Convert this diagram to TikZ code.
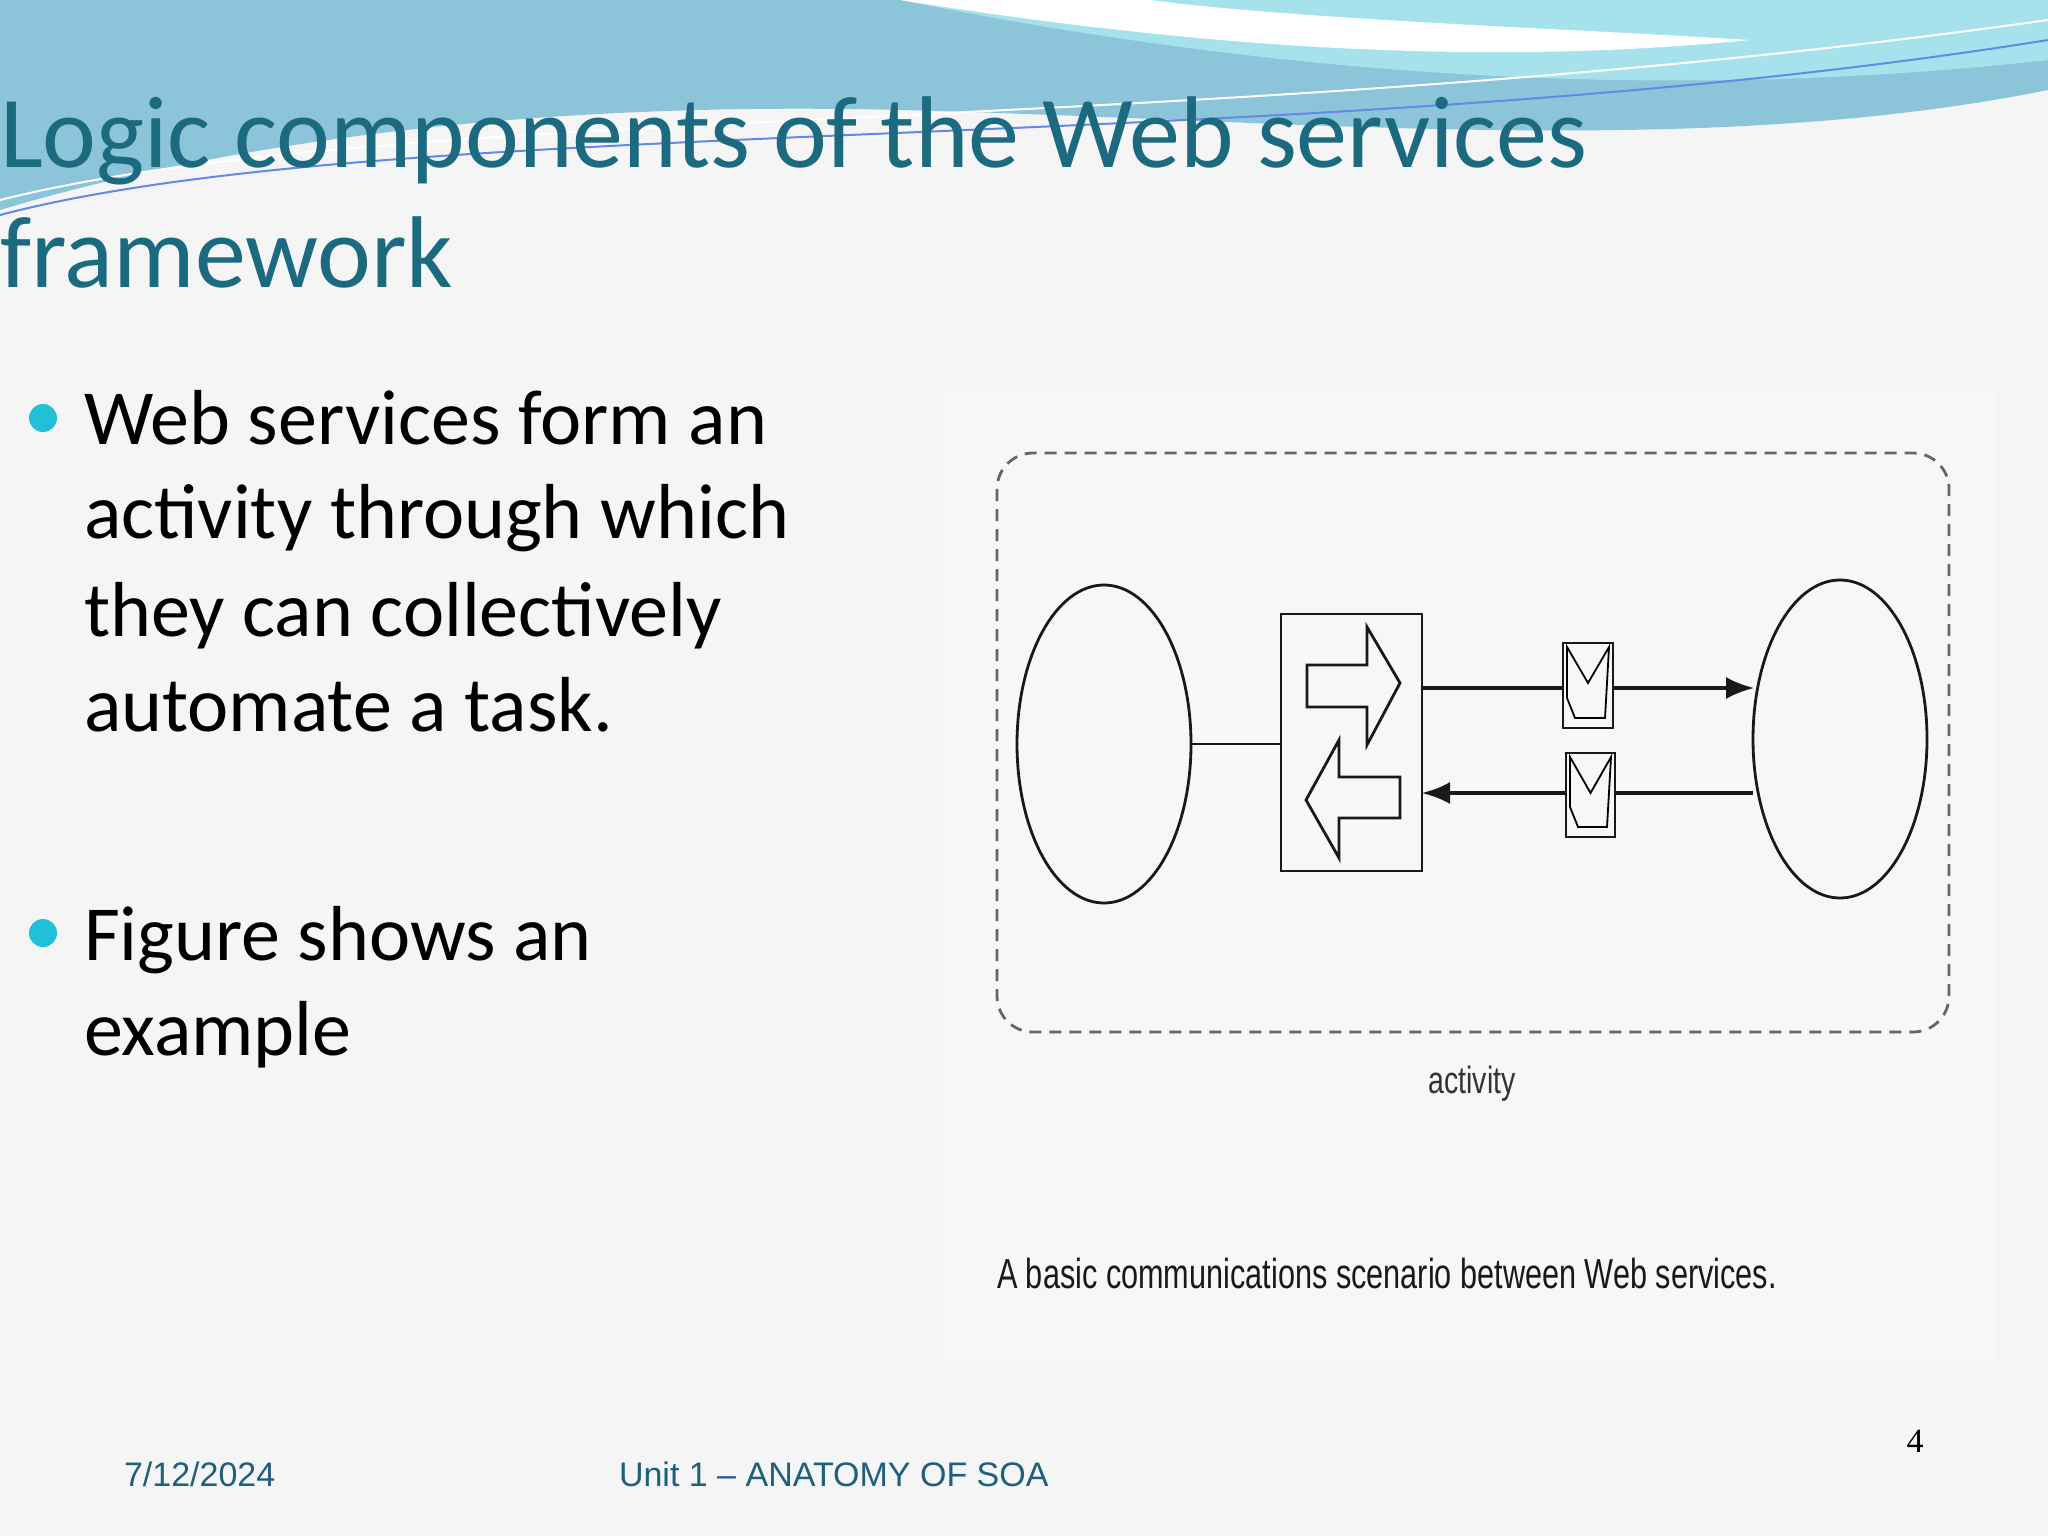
\documentclass[tikz,border=0pt]{standalone}
\usepackage{fontspec}
\usetikzlibrary{arrows.meta,shapes.geometric}
\setmainfont{Carlito}
\newfontfamily\capfont{Liberation Sans}
\newfontfamily\numf{Liberation Serif}
\begin{document}
\begin{tikzpicture}[x=0.5pt,y=-0.5pt,
  every node/.style={inner sep=0pt,outer sep=0pt},
  ln/.style={line width=1.6pt,black!90},
  thin/.style={line width=1.4pt,black!90},
  tl/.style={anchor=base west,font=\fontsize{51pt}{60pt}\selectfont,text=titc},
  bl/.style={anchor=base west,font=\fontsize{39pt}{46pt}\selectfont,text=black},
  dotb/.style={circle,fill=bulc,minimum size=14pt}]
\definecolor{titc}{HTML}{1C6A80}
\definecolor{bulc}{HTML}{1FC0D8}
\definecolor{footc}{HTML}{1E5F7A}
\definecolor{wave1}{HTML}{8CC4DA}
\definecolor{wave2}{HTML}{A6E2EC}
\useasboundingbox (0,0) rectangle (2048,1536);
\fill[black!4] (0,0) rectangle (2048,1536);
% top wave
\fill[wave1] (0,0) -- (2048,0) -- (2048,90) .. controls (1700,160) and (1300,120) .. (900,110) .. controls (500,100) and (200,150) .. (0,210) -- cycle;
\fill[wave2] (900,0) .. controls (1200,60) and (1600,110) .. (2048,60) -- (2048,0) -- cycle;
\fill[white] (900,0) .. controls (1150,40) and (1450,70) .. (1750,40) .. controls (1600,30) and (1300,20) .. (1150,0) -- cycle;
\draw[white,line width=1pt] (0,200) .. controls (400,100) and (1200,140) .. (2048,20);
\draw[wave1!70!blue,line width=1pt] (0,215) .. controls (400,110) and (1300,160) .. (2048,40);
% title
\node[tl] (t1) at (0,167) {Logic components of the Web services};
\node[tl] (t2) at (0,287) {framework};
% bullets
\node[dotb] (d1) at (43,418) {};
\node[bl] (b1) at (84,444) {Web services form an};
\node[bl] (b2) at (84,538) {activity through which};
\node[bl] (b3) at (84,636) {they can collectively};
\node[bl] (b4) at (84,731) {automate a task.};
\node[dotb] (d2) at (43,933) {};
\node[bl] (b5) at (84,960) {Figure shows an};
\node[bl] (b6) at (84,1055) {example};
% panel
\fill[white!97!black] (938,392) rectangle (1996,1365);
\draw[thin,dashed,dash pattern=on 6pt off 4pt,rounded corners=18pt,black!60] (997,453) rectangle (1949,1032);
\node[draw,thin,ellipse,minimum width=87pt,minimum height=159pt] (le) at (1104,744) {};
\node[draw,thin,ellipse,minimum width=87pt,minimum height=159pt] (re) at (1840,739) {};
\node[draw,thin,minimum width=70.5pt,minimum height=128.5pt] (bx) at (1351.5,742.5) {};
\draw[thin] (le.east) -- (bx.west |- le.east);
\draw[thin,line join=miter] (1307,665) -- (1367,665) -- (1367,627) -- (1400,683) -- (1367,745) -- (1367,707) -- (1307,707) -- cycle;
\draw[thin,line join=miter] (1400,777) -- (1339,777) -- (1339,740) -- (1306,800) -- (1339,858) -- (1339,818) -- (1400,818) -- cycle;
\node[draw,thin,minimum width=25pt,minimum height=42.5pt] (e1) at (1588,685.5) {};
\node[draw,thin,minimum width=24.5pt,minimum height=42pt] (e2) at (1590.5,795) {};
\foreach \e in {e1,e2}{
  \draw[line width=0.9pt] ([shift={(4,4)}]\e.north west) -- ([shift={(0,40)}]\e.north) -- ([shift={(-4,4)}]\e.north east) -- ([shift={(-8,-10)}]\e.south east) -- ([shift={(12,-10)}]\e.south west) -- ([shift={(4,-30)}]\e.south west) -- cycle;
}
\coordinate (a1) at (1754,688);
\coordinate (a2) at (1753,793);
\draw[ln] (bx.east |- a1) -- (e1.west |- a1);
\draw[ln,-{Latex[length=14pt,width=11pt]}] (e1.east |- a1) -- (a1);
\draw[ln] (a2) -- (e2.east |- a2);
\draw[ln,-{Latex[length=14pt,width=11pt]}] (e2.west |- a2) -- (bx.east |- a2);
\node[anchor=base,font=\capfont\fontsize{19pt}{22pt}\selectfont,xscale=0.75,text=black!80] (act) at (1472,1093) {activity};
\node[anchor=base west,font=\capfont\fontsize{21pt}{24pt}\selectfont,xscale=0.73,text=black!90] (capt) at (997,1288) {A basic communications scenario between Web services.};
% footer
\node[anchor=base west,font=\capfont\fontsize{17pt}{20pt}\selectfont,text=footc] (dt) at (124,1486) {7/12/2024};
\node[anchor=base west,font=\capfont\fontsize{17pt}{20pt}\selectfont,text=footc] (un) at (619,1486) {Unit 1 – ANATOMY OF SOA};
\node[anchor=base,font=\numf\fontsize{17pt}{20pt}\selectfont] (pg) at (1915,1452) {4};
\end{tikzpicture}
\end{document}
